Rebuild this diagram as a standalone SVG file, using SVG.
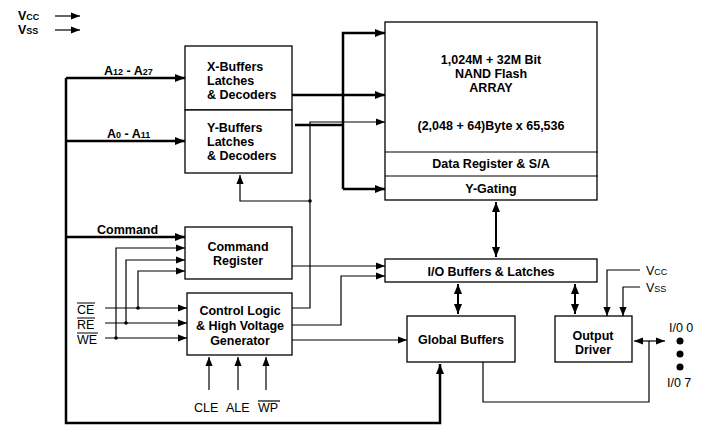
<svg xmlns="http://www.w3.org/2000/svg" width="711" height="443" viewBox="0 0 711 443">
<defs>
<marker id="a" viewBox="0 0 10 10" refX="10" refY="5" markerWidth="9" markerHeight="9" markerUnits="userSpaceOnUse" orient="auto-start-reverse"><path d="M0,1 L10,5 L0,9 z" fill="#000"/></marker>
<marker id="at" viewBox="0 0 10 10" refX="10" refY="5" markerWidth="10" markerHeight="10" markerUnits="userSpaceOnUse" orient="auto-start-reverse"><path d="M0,1 L10,5 L0,9 z" fill="#000"/></marker>
</defs>
<style>
.b{fill:#fff;stroke:#000;stroke-width:1.3}
.t{font-family:"Liberation Sans",Arial,sans-serif;font-weight:bold;font-size:12.5px;fill:#000}
.n{font-family:"Liberation Sans",Arial,sans-serif;font-size:12.5px;fill:#000}
.th{fill:none;stroke:#000;stroke-width:2.5}
.tn{fill:none;stroke:#000;stroke-width:1.2}
.s{font-size:9px}
</style>
<rect width="711" height="443" fill="#fff"/>
<g id="connectors">
<path class="tn" d="M55,16H80" marker-end="url(#a)"/>
<path class="tn" d="M55,30H80" marker-end="url(#a)"/>
<path class="th" d="M66,78V423H440V364" marker-end="url(#at)"/>
<path class="th" d="M66,78H185" marker-end="url(#at)"/>
<path class="th" d="M66,141H185" marker-end="url(#at)"/>
<path class="th" d="M66,237H185" marker-end="url(#at)"/>
<path class="th" d="M292,95H385" marker-end="url(#at)"/>
<path class="th" d="M295,125H343"/>
<path class="th" d="M343,189V33H385" marker-end="url(#at)"/>
<path class="th" d="M343,189H385" marker-end="url(#at)"/>
<path class="tn" d="M292,308H310V122H385" marker-end="url(#a)"/>
<path class="tn" d="M310,201H240V175" marker-end="url(#a)"/>
<circle cx="310" cy="201" r="1.8"/>
<path class="tn" d="M105,308H187" marker-end="url(#a)"/>
<path class="tn" d="M105,323H187" marker-end="url(#a)"/>
<path class="tn" d="M105,338H187" marker-end="url(#a)"/>
<path class="tn" d="M116,338V248H185" marker-end="url(#a)"/>
<path class="tn" d="M126,323V260H185" marker-end="url(#a)"/>
<path class="tn" d="M138,308V271H185" marker-end="url(#a)"/>
<circle cx="116" cy="338" r="1.8"/><circle cx="126" cy="323" r="1.8"/><circle cx="138" cy="308" r="1.8"/>
<path class="tn" d="M292,266H385" marker-end="url(#a)"/>
<path class="tn" d="M292,325H341V276H385" marker-end="url(#a)"/>
<path class="tn" d="M292,340H407" marker-end="url(#a)"/>
<path class="tn" d="M209,390V357" marker-end="url(#a)"/>
<path class="tn" d="M238,390V357" marker-end="url(#a)"/>
<path class="tn" d="M266,390V357" marker-end="url(#a)"/>
<path class="tn" style="stroke-width:2" d="M496,202V257" marker-start="url(#at)" marker-end="url(#at)"/>
<path class="tn" style="stroke-width:2" d="M458,284V314" marker-start="url(#at)" marker-end="url(#at)"/>
<path class="tn" style="stroke-width:2" d="M575,284V314" marker-start="url(#at)" marker-end="url(#at)"/>
<path class="tn" d="M640,270H607V316" marker-end="url(#a)"/>
<path class="tn" d="M640,287H623V316" marker-end="url(#a)"/>
<path class="tn" d="M634,341H665" marker-start="url(#a)" marker-end="url(#a)"/>
<path class="tn" d="M649,341V402H483V362"/>
</g>
<g id="vcc"><text class="t" x="18" y="20">V<tspan class="s">CC</tspan></text><text class="t" x="18" y="34">V<tspan class="s">SS</tspan></text></g>
<g id="labels">
<text class="t" x="104" y="75">A<tspan class="s">12</tspan> - A<tspan class="s">27</tspan></text>
<text class="t" x="107" y="138">A<tspan class="s">0</tspan> - A<tspan class="s">11</tspan></text>
<text class="t" x="97" y="234">Command</text>
<text class="n" x="77" y="314">CE</text><text class="n" x="77" y="329">RE</text><text class="n" x="77" y="344">WE</text>
<path class="tn" d="M77,303H95M77,318H95M77,333H98"/>
<text class="n" x="194" y="412">CLE</text><text class="n" x="226" y="412">ALE</text><text class="n" x="258" y="412">WP</text>
<path class="tn" d="M258,401H280"/>
</g>
<g id="xbuf"><rect class="b" x="185" y="46" width="107" height="64"/>
<text class="t" x="207" y="71">X-Buffers</text><text class="t" x="207" y="85">Latches</text><text class="t" x="207" y="99">&amp; Decoders</text></g>
<g id="ybuf"><rect class="b" x="185" y="110" width="107" height="63"/>
<text class="t" x="207" y="132">Y-Buffers</text><text class="t" x="207" y="146">Latches</text><text class="t" x="207" y="160">&amp; Decoders</text></g>
<g id="array"><rect class="b" x="385" y="22" width="212" height="178"/>
<path class="tn" d="M385,152H598M385,176H598"/>
<text class="t" text-anchor="middle" x="491" y="64">1,024M + 32M Bit</text>
<text class="t" text-anchor="middle" x="491" y="78">NAND Flash</text>
<text class="t" text-anchor="middle" x="491" y="92">ARRAY</text>
<text class="t" text-anchor="middle" x="491" y="130">(2,048 + 64)Byte x 65,536</text>
<text class="t" text-anchor="middle" x="491" y="168">Data Register &amp; S/A</text>
<text class="t" text-anchor="middle" x="491" y="193">Y-Gating</text></g>
<g id="cmdreg"><rect class="b" x="185" y="227" width="107" height="52"/>
<text class="t" text-anchor="middle" x="238" y="251">Command</text><text class="t" text-anchor="middle" x="238" y="265">Register</text></g>
<g id="ctrl"><rect class="b" x="187" y="293" width="105" height="62"/>
<text class="t" text-anchor="middle" x="240" y="315">Control Logic</text><text class="t" text-anchor="middle" x="240" y="330">&amp; High Voltage</text><text class="t" text-anchor="middle" x="240" y="345">Generator</text></g>
<g id="io"><rect class="b" x="385" y="259" width="212" height="23"/>
<text class="t" text-anchor="middle" x="491" y="276">I/O Buffers &amp; Latches</text></g>
<g id="gb"><rect class="b" x="407" y="316" width="108" height="46"/>
<text class="t" text-anchor="middle" x="461" y="344">Global Buffers</text></g>
<g id="od"><rect class="b" x="555" y="316" width="77" height="46"/>
<text class="t" text-anchor="middle" x="593" y="340">Output</text><text class="t" text-anchor="middle" x="593" y="354">Driver</text></g>
<g id="pins">
<text class="n" x="646" y="275">V<tspan class="s">CC</tspan></text><text class="n" x="646" y="292">V<tspan class="s">SS</tspan></text>
<text class="n" x="669" y="332">I/0 0</text><text class="n" x="667" y="387">I/0 7</text>
<circle cx="680" cy="341" r="3.5"/><circle cx="680" cy="354" r="3.5"/><circle cx="680" cy="367" r="3.5"/>
</g>
</svg>
